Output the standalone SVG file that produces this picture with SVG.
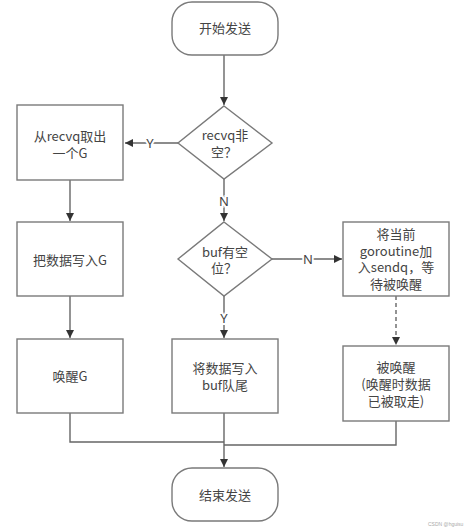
<svg xmlns="http://www.w3.org/2000/svg" width="474" height="532" viewBox="0 0 474 532">
<style>
.n{fill:#fff;stroke:#7a7a7a;stroke-width:1.4}
.t{font-family:"Noto Sans CJK SC","Noto Sans",sans-serif;font-size:13px;fill:#444;text-anchor:middle}
.c{fill:none;stroke:#666;stroke-width:1.4}
.d{stroke-dasharray:4 3}
.l{font-family:"Noto Sans","Noto Sans CJK SC",sans-serif;font-size:13px;fill:#444;text-anchor:middle;stroke:#fff;stroke-width:4;paint-order:stroke}
.w{font-family:"Liberation Sans",sans-serif;font-size:5px;fill:#aaa}
</style>
<defs>
<marker id="a" markerWidth="10" markerHeight="10" refX="9" refY="5" orient="auto" markerUnits="userSpaceOnUse">
<path d="M1,1 L9,5 L1,9 Z" fill="#333"/>
</marker>
</defs>
<rect width="474" height="532" fill="#fff"/>
<g id="connectors">
<path class="c" d="M224,55 V105" marker-end="url(#a)"/>
<path class="c" d="M178,143 H125" marker-end="url(#a)"/>
<path class="c" d="M70,180 V221" marker-end="url(#a)"/>
<path class="c" d="M70,296 V338" marker-end="url(#a)"/>
<path class="c" d="M224,178 V221" marker-end="url(#a)"/>
<path class="c" d="M272,259 H342" marker-end="url(#a)"/>
<path class="c d" d="M396,296 V345" marker-end="url(#a)"/>
<path class="c" d="M224,296 V338" marker-end="url(#a)"/>
<path class="c" d="M70,413 V442 H224"/>
<path class="c" d="M396,421 V445 H224"/>
<path class="c" d="M224,413 V467" marker-end="url(#a)"/>
<text class="l" x="150" y="148">Y</text>
<text class="l" x="224" y="206">N</text>
<text class="l" x="308" y="264">N</text>
<text class="l" x="224" y="323">Y</text>
</g>
<g id="start">
<rect class="n" x="172" y="2" width="106" height="53" rx="20"/>
<text class="t" x="225" y="33">开始发送</text>
</g>
<g id="recvq">
<path class="n" d="M224,106 L272,143 L224,179 L178,143 Z"/>
<text class="t" x="225" y="140">recvq非</text>
<text class="t" x="224" y="157">空？</text>
</g>
<g id="take">
<rect class="n" x="17" y="105" width="106" height="75"/>
<text class="t" x="70" y="141">从recvq取出</text>
<text class="t" x="70" y="158">一个G</text>
</g>
<g id="writeG">
<rect class="n" x="17" y="222" width="106" height="74"/>
<text class="t" x="70" y="265">把数据写入G</text>
</g>
<g id="wakeG">
<rect class="n" x="17" y="339" width="106" height="74"/>
<text class="t" x="70" y="381">唤醒G</text>
</g>
<g id="buf">
<path class="n" d="M224,222 L272,259 L224,296 L178,259 Z"/>
<text class="t" x="225" y="257">buf有空</text>
<text class="t" x="224" y="273">位？</text>
</g>
<g id="enqueue">
<rect class="n" x="343" y="222" width="106" height="74"/>
<text class="t" x="396" y="239">将当前</text>
<text class="t" x="396" y="256">goroutine加</text>
<text class="t" x="396" y="272">入sendq，等</text>
<text class="t" x="396" y="289">待被唤醒</text>
</g>
<g id="woken">
<rect class="n" x="343" y="346" width="106" height="75"/>
<text class="t" x="396" y="372">被唤醒</text>
<text class="t" x="396" y="389">(唤醒时数据</text>
<text class="t" x="396" y="406">已被取走)</text>
</g>
<g id="writebuf">
<rect class="n" x="172" y="339" width="106" height="74"/>
<text class="t" x="225" y="373">将数据写入</text>
<text class="t" x="225" y="390">buf队尾</text>
</g>
<g id="end">
<rect class="n" x="172" y="468" width="106" height="53" rx="20"/>
<text class="t" x="225" y="500">结束发送</text>
</g>
<text class="w" x="428" y="526">CSDN @hguisu</text>
</svg>
